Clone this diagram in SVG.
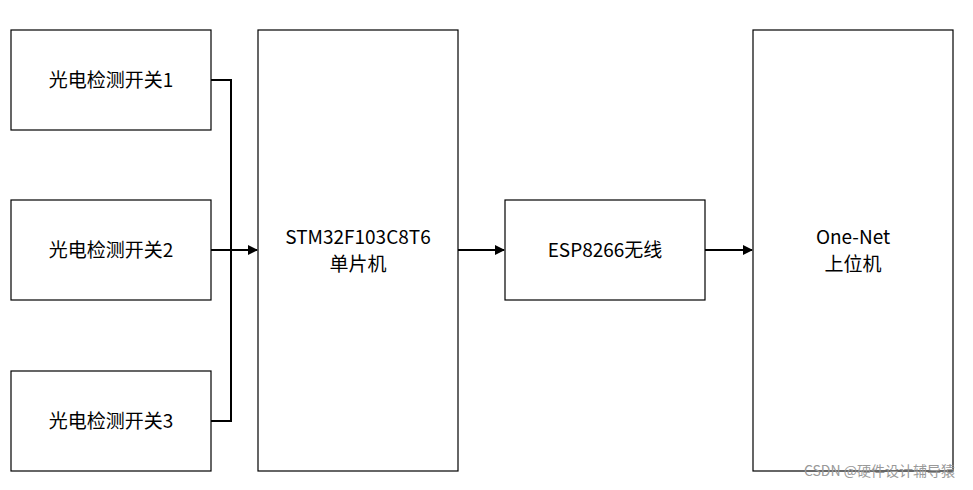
<svg xmlns="http://www.w3.org/2000/svg" width="973" height="490" viewBox="0 0 973 490">
<style>
.b{fill:#fff;stroke:#000;stroke-width:1.2}
.t{font-family:"Noto Sans CJK SC","Liberation Sans",sans-serif;font-size:19px;text-anchor:middle;fill:#000}
.c{fill:none;stroke:#000;stroke-width:2}
</style>
<defs><marker id="a" markerWidth="10" markerHeight="10" refX="9" refY="5" orient="auto" markerUnits="userSpaceOnUse"><path d="M0,0L10,5L0,10z" fill="#000"/></marker></defs>
<rect width="973" height="490" fill="#fff"/>
<g id="n1"><rect class="b" x="11" y="30" width="200" height="100"/><text class="t" x="111" y="87">光电检测开关1</text></g>
<g id="n2"><rect class="b" x="11" y="200" width="200" height="100"/><text class="t" x="111" y="257">光电检测开关2</text></g>
<g id="n3"><rect class="b" x="11" y="371" width="200" height="100"/><text class="t" x="111" y="428">光电检测开关3</text></g>
<g id="mcu"><rect class="b" x="258" y="30" width="200" height="441"/><text class="t" x="358" y="244">STM32F103C8T6</text><text class="t" x="358" y="271">单片机</text></g>
<g id="esp"><rect class="b" x="505" y="200" width="200" height="100"/><text class="t" x="605" y="257">ESP8266无线</text></g>
<g id="net"><rect class="b" x="753" y="30" width="200" height="441"/><text class="t" x="853" y="244">One-Net</text><text class="t" x="853" y="271">上位机</text></g>
<g id="connectors">
<path class="c" d="M211,80H231V421H211"/>
<path class="c" d="M211,250H257" marker-end="url(#a)"/>
<path class="c" d="M458,250H504" marker-end="url(#a)"/>
<path class="c" d="M705,250H752" marker-end="url(#a)"/>
</g>
<text x="955" y="476" font-family="Noto Sans CJK SC,sans-serif" font-size="14" fill="#999" text-anchor="end">CSDN @硬件设计辅导猿</text>
</svg>
